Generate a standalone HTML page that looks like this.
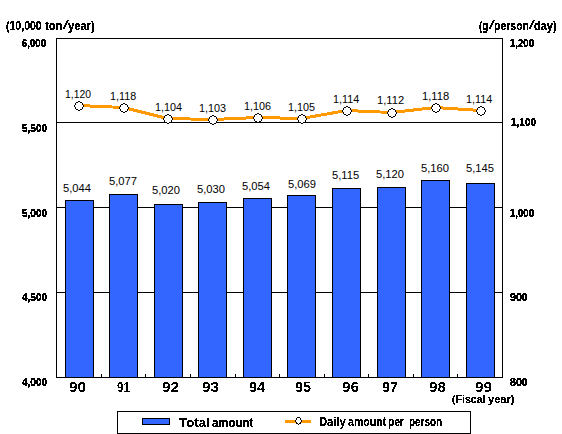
<!DOCTYPE html>
<html><head><meta charset="utf-8"><style>
html,body{margin:0;padding:0;background:#fff;width:562px;height:434px;overflow:hidden}
svg{display:block;font-family:"Liberation Sans",sans-serif}
</style></head><body>
<svg width="562" height="434" viewBox="0 0 562 434">
<defs><filter id="crispa" x="-10%" y="-30%" width="120%" height="160%"><feComponentTransfer><feFuncA type="discrete" tableValues="0 1 1 1"/></feComponentTransfer></filter><filter id="crispb" x="-10%" y="-30%" width="120%" height="160%"><feComponentTransfer><feFuncA type="discrete" tableValues="0 1 1"/></feComponentTransfer></filter><filter id="crispc" x="-10%" y="-30%" width="120%" height="160%"><feComponentTransfer><feFuncA type="discrete" tableValues="0 1"/></feComponentTransfer></filter><filter id="crispd" x="-10%" y="-30%" width="120%" height="160%"><feComponentTransfer><feFuncA type="discrete" tableValues="0 0 1 1 1"/></feComponentTransfer></filter><filter id="crispe" x="-10%" y="-30%" width="120%" height="160%"><feComponentTransfer><feFuncA type="discrete" tableValues="0 0 1"/></feComponentTransfer></filter></defs>
<g shape-rendering="crispEdges"><rect x="57" y="122" width="445" height="1" fill="#000"/>
<rect x="57" y="207" width="445" height="1" fill="#000"/>
<rect x="57" y="292" width="445" height="1" fill="#000"/>
<rect x="65" y="200" width="29" height="178" fill="#3366ff"/><rect x="65" y="200" width="29" height="1" fill="#000"/><rect x="65" y="377" width="29" height="1" fill="#000"/><rect x="65" y="200" width="1" height="178" fill="#000"/><rect x="93" y="200" width="1" height="178" fill="#000"/>
<rect x="109" y="194" width="29" height="184" fill="#3366ff"/><rect x="109" y="194" width="29" height="1" fill="#000"/><rect x="109" y="377" width="29" height="1" fill="#000"/><rect x="109" y="194" width="1" height="184" fill="#000"/><rect x="137" y="194" width="1" height="184" fill="#000"/>
<rect x="154" y="204" width="29" height="174" fill="#3366ff"/><rect x="154" y="204" width="29" height="1" fill="#000"/><rect x="154" y="377" width="29" height="1" fill="#000"/><rect x="154" y="204" width="1" height="174" fill="#000"/><rect x="182" y="204" width="1" height="174" fill="#000"/>
<rect x="198" y="202" width="29" height="176" fill="#3366ff"/><rect x="198" y="202" width="29" height="1" fill="#000"/><rect x="198" y="377" width="29" height="1" fill="#000"/><rect x="198" y="202" width="1" height="176" fill="#000"/><rect x="226" y="202" width="1" height="176" fill="#000"/>
<rect x="243" y="198" width="29" height="180" fill="#3366ff"/><rect x="243" y="198" width="29" height="1" fill="#000"/><rect x="243" y="377" width="29" height="1" fill="#000"/><rect x="243" y="198" width="1" height="180" fill="#000"/><rect x="271" y="198" width="1" height="180" fill="#000"/>
<rect x="287" y="195" width="29" height="183" fill="#3366ff"/><rect x="287" y="195" width="29" height="1" fill="#000"/><rect x="287" y="377" width="29" height="1" fill="#000"/><rect x="287" y="195" width="1" height="183" fill="#000"/><rect x="315" y="195" width="1" height="183" fill="#000"/>
<rect x="332" y="188" width="29" height="190" fill="#3366ff"/><rect x="332" y="188" width="29" height="1" fill="#000"/><rect x="332" y="377" width="29" height="1" fill="#000"/><rect x="332" y="188" width="1" height="190" fill="#000"/><rect x="360" y="188" width="1" height="190" fill="#000"/>
<rect x="377" y="187" width="29" height="191" fill="#3366ff"/><rect x="377" y="187" width="29" height="1" fill="#000"/><rect x="377" y="377" width="29" height="1" fill="#000"/><rect x="377" y="187" width="1" height="191" fill="#000"/><rect x="405" y="187" width="1" height="191" fill="#000"/>
<rect x="421" y="180" width="29" height="198" fill="#3366ff"/><rect x="421" y="180" width="29" height="1" fill="#000"/><rect x="421" y="377" width="29" height="1" fill="#000"/><rect x="421" y="180" width="1" height="198" fill="#000"/><rect x="449" y="180" width="1" height="198" fill="#000"/>
<rect x="466" y="183" width="29" height="195" fill="#3366ff"/><rect x="466" y="183" width="29" height="1" fill="#000"/><rect x="466" y="377" width="29" height="1" fill="#000"/><rect x="466" y="183" width="1" height="195" fill="#000"/><rect x="494" y="183" width="1" height="195" fill="#000"/>
<rect x="56" y="38" width="447" height="1" fill="#000"/><rect x="56" y="377" width="447" height="1" fill="#000"/><rect x="56" y="38" width="1" height="340" fill="#000"/><rect x="502" y="38" width="1" height="340" fill="#000"/>
<rect x="101" y="374" width="1" height="3" fill="#000"/>
<rect x="145" y="374" width="1" height="3" fill="#000"/>
<rect x="190" y="374" width="1" height="3" fill="#000"/>
<rect x="235" y="374" width="1" height="3" fill="#000"/>
<rect x="279" y="374" width="1" height="3" fill="#000"/>
<rect x="324" y="374" width="1" height="3" fill="#000"/>
<rect x="368" y="374" width="1" height="3" fill="#000"/>
<rect x="413" y="374" width="1" height="3" fill="#000"/>
<rect x="457" y="374" width="1" height="3" fill="#000"/>
<polyline points="78.5,105.5 123.5,107.5 167.5,118.5 212.5,119.5 257.5,117.5 301.5,118.5 346.5,110.5 391.5,112.5 435.5,107.5 480.5,110.5" fill="none" stroke="#ff9900" stroke-width="3" stroke-linejoin="round" stroke-linecap="butt"/>
<rect x="77" y="102" width="4" height="1" fill="#fff"/><rect x="76" y="103" width="6" height="1" fill="#fff"/><rect x="76" y="104" width="6" height="1" fill="#fff"/><rect x="75" y="105" width="8" height="1" fill="#fff"/><rect x="75" y="106" width="8" height="1" fill="#fff"/><rect x="76" y="107" width="6" height="1" fill="#fff"/><rect x="76" y="108" width="6" height="1" fill="#fff"/><rect x="77" y="109" width="4" height="1" fill="#fff"/><rect x="78" y="101" width="1" height="1" fill="#000"/><rect x="79" y="101" width="1" height="1" fill="#000"/><rect x="76" y="102" width="1" height="1" fill="#000"/><rect x="77" y="102" width="1" height="1" fill="#000"/><rect x="80" y="102" width="1" height="1" fill="#000"/><rect x="81" y="102" width="1" height="1" fill="#000"/><rect x="75" y="103" width="1" height="1" fill="#000"/><rect x="82" y="103" width="1" height="1" fill="#000"/><rect x="75" y="104" width="1" height="1" fill="#000"/><rect x="82" y="104" width="1" height="1" fill="#000"/><rect x="74" y="105" width="1" height="1" fill="#000"/><rect x="83" y="105" width="1" height="1" fill="#000"/><rect x="74" y="106" width="1" height="1" fill="#000"/><rect x="83" y="106" width="1" height="1" fill="#000"/><rect x="75" y="107" width="1" height="1" fill="#000"/><rect x="82" y="107" width="1" height="1" fill="#000"/><rect x="75" y="108" width="1" height="1" fill="#000"/><rect x="82" y="108" width="1" height="1" fill="#000"/><rect x="76" y="109" width="1" height="1" fill="#000"/><rect x="77" y="109" width="1" height="1" fill="#000"/><rect x="80" y="109" width="1" height="1" fill="#000"/><rect x="81" y="109" width="1" height="1" fill="#000"/><rect x="78" y="110" width="1" height="1" fill="#000"/><rect x="79" y="110" width="1" height="1" fill="#000"/>
<rect x="122" y="104" width="4" height="1" fill="#fff"/><rect x="121" y="105" width="6" height="1" fill="#fff"/><rect x="121" y="106" width="6" height="1" fill="#fff"/><rect x="120" y="107" width="8" height="1" fill="#fff"/><rect x="120" y="108" width="8" height="1" fill="#fff"/><rect x="121" y="109" width="6" height="1" fill="#fff"/><rect x="121" y="110" width="6" height="1" fill="#fff"/><rect x="122" y="111" width="4" height="1" fill="#fff"/><rect x="123" y="103" width="1" height="1" fill="#000"/><rect x="124" y="103" width="1" height="1" fill="#000"/><rect x="121" y="104" width="1" height="1" fill="#000"/><rect x="122" y="104" width="1" height="1" fill="#000"/><rect x="125" y="104" width="1" height="1" fill="#000"/><rect x="126" y="104" width="1" height="1" fill="#000"/><rect x="120" y="105" width="1" height="1" fill="#000"/><rect x="127" y="105" width="1" height="1" fill="#000"/><rect x="120" y="106" width="1" height="1" fill="#000"/><rect x="127" y="106" width="1" height="1" fill="#000"/><rect x="119" y="107" width="1" height="1" fill="#000"/><rect x="128" y="107" width="1" height="1" fill="#000"/><rect x="119" y="108" width="1" height="1" fill="#000"/><rect x="128" y="108" width="1" height="1" fill="#000"/><rect x="120" y="109" width="1" height="1" fill="#000"/><rect x="127" y="109" width="1" height="1" fill="#000"/><rect x="120" y="110" width="1" height="1" fill="#000"/><rect x="127" y="110" width="1" height="1" fill="#000"/><rect x="121" y="111" width="1" height="1" fill="#000"/><rect x="122" y="111" width="1" height="1" fill="#000"/><rect x="125" y="111" width="1" height="1" fill="#000"/><rect x="126" y="111" width="1" height="1" fill="#000"/><rect x="123" y="112" width="1" height="1" fill="#000"/><rect x="124" y="112" width="1" height="1" fill="#000"/>
<rect x="166" y="115" width="4" height="1" fill="#fff"/><rect x="165" y="116" width="6" height="1" fill="#fff"/><rect x="165" y="117" width="6" height="1" fill="#fff"/><rect x="164" y="118" width="8" height="1" fill="#fff"/><rect x="164" y="119" width="8" height="1" fill="#fff"/><rect x="165" y="120" width="6" height="1" fill="#fff"/><rect x="165" y="121" width="6" height="1" fill="#fff"/><rect x="166" y="122" width="4" height="1" fill="#fff"/><rect x="167" y="114" width="1" height="1" fill="#000"/><rect x="168" y="114" width="1" height="1" fill="#000"/><rect x="165" y="115" width="1" height="1" fill="#000"/><rect x="166" y="115" width="1" height="1" fill="#000"/><rect x="169" y="115" width="1" height="1" fill="#000"/><rect x="170" y="115" width="1" height="1" fill="#000"/><rect x="164" y="116" width="1" height="1" fill="#000"/><rect x="171" y="116" width="1" height="1" fill="#000"/><rect x="164" y="117" width="1" height="1" fill="#000"/><rect x="171" y="117" width="1" height="1" fill="#000"/><rect x="163" y="118" width="1" height="1" fill="#000"/><rect x="172" y="118" width="1" height="1" fill="#000"/><rect x="163" y="119" width="1" height="1" fill="#000"/><rect x="172" y="119" width="1" height="1" fill="#000"/><rect x="164" y="120" width="1" height="1" fill="#000"/><rect x="171" y="120" width="1" height="1" fill="#000"/><rect x="164" y="121" width="1" height="1" fill="#000"/><rect x="171" y="121" width="1" height="1" fill="#000"/><rect x="165" y="122" width="1" height="1" fill="#000"/><rect x="166" y="122" width="1" height="1" fill="#000"/><rect x="169" y="122" width="1" height="1" fill="#000"/><rect x="170" y="122" width="1" height="1" fill="#000"/><rect x="167" y="123" width="1" height="1" fill="#000"/><rect x="168" y="123" width="1" height="1" fill="#000"/>
<rect x="211" y="116" width="4" height="1" fill="#fff"/><rect x="210" y="117" width="6" height="1" fill="#fff"/><rect x="210" y="118" width="6" height="1" fill="#fff"/><rect x="209" y="119" width="8" height="1" fill="#fff"/><rect x="209" y="120" width="8" height="1" fill="#fff"/><rect x="210" y="121" width="6" height="1" fill="#fff"/><rect x="210" y="122" width="6" height="1" fill="#fff"/><rect x="211" y="123" width="4" height="1" fill="#fff"/><rect x="212" y="115" width="1" height="1" fill="#000"/><rect x="213" y="115" width="1" height="1" fill="#000"/><rect x="210" y="116" width="1" height="1" fill="#000"/><rect x="211" y="116" width="1" height="1" fill="#000"/><rect x="214" y="116" width="1" height="1" fill="#000"/><rect x="215" y="116" width="1" height="1" fill="#000"/><rect x="209" y="117" width="1" height="1" fill="#000"/><rect x="216" y="117" width="1" height="1" fill="#000"/><rect x="209" y="118" width="1" height="1" fill="#000"/><rect x="216" y="118" width="1" height="1" fill="#000"/><rect x="208" y="119" width="1" height="1" fill="#000"/><rect x="217" y="119" width="1" height="1" fill="#000"/><rect x="208" y="120" width="1" height="1" fill="#000"/><rect x="217" y="120" width="1" height="1" fill="#000"/><rect x="209" y="121" width="1" height="1" fill="#000"/><rect x="216" y="121" width="1" height="1" fill="#000"/><rect x="209" y="122" width="1" height="1" fill="#000"/><rect x="216" y="122" width="1" height="1" fill="#000"/><rect x="210" y="123" width="1" height="1" fill="#000"/><rect x="211" y="123" width="1" height="1" fill="#000"/><rect x="214" y="123" width="1" height="1" fill="#000"/><rect x="215" y="123" width="1" height="1" fill="#000"/><rect x="212" y="124" width="1" height="1" fill="#000"/><rect x="213" y="124" width="1" height="1" fill="#000"/>
<rect x="256" y="114" width="4" height="1" fill="#fff"/><rect x="255" y="115" width="6" height="1" fill="#fff"/><rect x="255" y="116" width="6" height="1" fill="#fff"/><rect x="254" y="117" width="8" height="1" fill="#fff"/><rect x="254" y="118" width="8" height="1" fill="#fff"/><rect x="255" y="119" width="6" height="1" fill="#fff"/><rect x="255" y="120" width="6" height="1" fill="#fff"/><rect x="256" y="121" width="4" height="1" fill="#fff"/><rect x="257" y="113" width="1" height="1" fill="#000"/><rect x="258" y="113" width="1" height="1" fill="#000"/><rect x="255" y="114" width="1" height="1" fill="#000"/><rect x="256" y="114" width="1" height="1" fill="#000"/><rect x="259" y="114" width="1" height="1" fill="#000"/><rect x="260" y="114" width="1" height="1" fill="#000"/><rect x="254" y="115" width="1" height="1" fill="#000"/><rect x="261" y="115" width="1" height="1" fill="#000"/><rect x="254" y="116" width="1" height="1" fill="#000"/><rect x="261" y="116" width="1" height="1" fill="#000"/><rect x="253" y="117" width="1" height="1" fill="#000"/><rect x="262" y="117" width="1" height="1" fill="#000"/><rect x="253" y="118" width="1" height="1" fill="#000"/><rect x="262" y="118" width="1" height="1" fill="#000"/><rect x="254" y="119" width="1" height="1" fill="#000"/><rect x="261" y="119" width="1" height="1" fill="#000"/><rect x="254" y="120" width="1" height="1" fill="#000"/><rect x="261" y="120" width="1" height="1" fill="#000"/><rect x="255" y="121" width="1" height="1" fill="#000"/><rect x="256" y="121" width="1" height="1" fill="#000"/><rect x="259" y="121" width="1" height="1" fill="#000"/><rect x="260" y="121" width="1" height="1" fill="#000"/><rect x="257" y="122" width="1" height="1" fill="#000"/><rect x="258" y="122" width="1" height="1" fill="#000"/>
<rect x="300" y="115" width="4" height="1" fill="#fff"/><rect x="299" y="116" width="6" height="1" fill="#fff"/><rect x="299" y="117" width="6" height="1" fill="#fff"/><rect x="298" y="118" width="8" height="1" fill="#fff"/><rect x="298" y="119" width="8" height="1" fill="#fff"/><rect x="299" y="120" width="6" height="1" fill="#fff"/><rect x="299" y="121" width="6" height="1" fill="#fff"/><rect x="300" y="122" width="4" height="1" fill="#fff"/><rect x="301" y="114" width="1" height="1" fill="#000"/><rect x="302" y="114" width="1" height="1" fill="#000"/><rect x="299" y="115" width="1" height="1" fill="#000"/><rect x="300" y="115" width="1" height="1" fill="#000"/><rect x="303" y="115" width="1" height="1" fill="#000"/><rect x="304" y="115" width="1" height="1" fill="#000"/><rect x="298" y="116" width="1" height="1" fill="#000"/><rect x="305" y="116" width="1" height="1" fill="#000"/><rect x="298" y="117" width="1" height="1" fill="#000"/><rect x="305" y="117" width="1" height="1" fill="#000"/><rect x="297" y="118" width="1" height="1" fill="#000"/><rect x="306" y="118" width="1" height="1" fill="#000"/><rect x="297" y="119" width="1" height="1" fill="#000"/><rect x="306" y="119" width="1" height="1" fill="#000"/><rect x="298" y="120" width="1" height="1" fill="#000"/><rect x="305" y="120" width="1" height="1" fill="#000"/><rect x="298" y="121" width="1" height="1" fill="#000"/><rect x="305" y="121" width="1" height="1" fill="#000"/><rect x="299" y="122" width="1" height="1" fill="#000"/><rect x="300" y="122" width="1" height="1" fill="#000"/><rect x="303" y="122" width="1" height="1" fill="#000"/><rect x="304" y="122" width="1" height="1" fill="#000"/><rect x="301" y="123" width="1" height="1" fill="#000"/><rect x="302" y="123" width="1" height="1" fill="#000"/>
<rect x="345" y="107" width="4" height="1" fill="#fff"/><rect x="344" y="108" width="6" height="1" fill="#fff"/><rect x="344" y="109" width="6" height="1" fill="#fff"/><rect x="343" y="110" width="8" height="1" fill="#fff"/><rect x="343" y="111" width="8" height="1" fill="#fff"/><rect x="344" y="112" width="6" height="1" fill="#fff"/><rect x="344" y="113" width="6" height="1" fill="#fff"/><rect x="345" y="114" width="4" height="1" fill="#fff"/><rect x="346" y="106" width="1" height="1" fill="#000"/><rect x="347" y="106" width="1" height="1" fill="#000"/><rect x="344" y="107" width="1" height="1" fill="#000"/><rect x="345" y="107" width="1" height="1" fill="#000"/><rect x="348" y="107" width="1" height="1" fill="#000"/><rect x="349" y="107" width="1" height="1" fill="#000"/><rect x="343" y="108" width="1" height="1" fill="#000"/><rect x="350" y="108" width="1" height="1" fill="#000"/><rect x="343" y="109" width="1" height="1" fill="#000"/><rect x="350" y="109" width="1" height="1" fill="#000"/><rect x="342" y="110" width="1" height="1" fill="#000"/><rect x="351" y="110" width="1" height="1" fill="#000"/><rect x="342" y="111" width="1" height="1" fill="#000"/><rect x="351" y="111" width="1" height="1" fill="#000"/><rect x="343" y="112" width="1" height="1" fill="#000"/><rect x="350" y="112" width="1" height="1" fill="#000"/><rect x="343" y="113" width="1" height="1" fill="#000"/><rect x="350" y="113" width="1" height="1" fill="#000"/><rect x="344" y="114" width="1" height="1" fill="#000"/><rect x="345" y="114" width="1" height="1" fill="#000"/><rect x="348" y="114" width="1" height="1" fill="#000"/><rect x="349" y="114" width="1" height="1" fill="#000"/><rect x="346" y="115" width="1" height="1" fill="#000"/><rect x="347" y="115" width="1" height="1" fill="#000"/>
<rect x="390" y="109" width="4" height="1" fill="#fff"/><rect x="389" y="110" width="6" height="1" fill="#fff"/><rect x="389" y="111" width="6" height="1" fill="#fff"/><rect x="388" y="112" width="8" height="1" fill="#fff"/><rect x="388" y="113" width="8" height="1" fill="#fff"/><rect x="389" y="114" width="6" height="1" fill="#fff"/><rect x="389" y="115" width="6" height="1" fill="#fff"/><rect x="390" y="116" width="4" height="1" fill="#fff"/><rect x="391" y="108" width="1" height="1" fill="#000"/><rect x="392" y="108" width="1" height="1" fill="#000"/><rect x="389" y="109" width="1" height="1" fill="#000"/><rect x="390" y="109" width="1" height="1" fill="#000"/><rect x="393" y="109" width="1" height="1" fill="#000"/><rect x="394" y="109" width="1" height="1" fill="#000"/><rect x="388" y="110" width="1" height="1" fill="#000"/><rect x="395" y="110" width="1" height="1" fill="#000"/><rect x="388" y="111" width="1" height="1" fill="#000"/><rect x="395" y="111" width="1" height="1" fill="#000"/><rect x="387" y="112" width="1" height="1" fill="#000"/><rect x="396" y="112" width="1" height="1" fill="#000"/><rect x="387" y="113" width="1" height="1" fill="#000"/><rect x="396" y="113" width="1" height="1" fill="#000"/><rect x="388" y="114" width="1" height="1" fill="#000"/><rect x="395" y="114" width="1" height="1" fill="#000"/><rect x="388" y="115" width="1" height="1" fill="#000"/><rect x="395" y="115" width="1" height="1" fill="#000"/><rect x="389" y="116" width="1" height="1" fill="#000"/><rect x="390" y="116" width="1" height="1" fill="#000"/><rect x="393" y="116" width="1" height="1" fill="#000"/><rect x="394" y="116" width="1" height="1" fill="#000"/><rect x="391" y="117" width="1" height="1" fill="#000"/><rect x="392" y="117" width="1" height="1" fill="#000"/>
<rect x="434" y="104" width="4" height="1" fill="#fff"/><rect x="433" y="105" width="6" height="1" fill="#fff"/><rect x="433" y="106" width="6" height="1" fill="#fff"/><rect x="432" y="107" width="8" height="1" fill="#fff"/><rect x="432" y="108" width="8" height="1" fill="#fff"/><rect x="433" y="109" width="6" height="1" fill="#fff"/><rect x="433" y="110" width="6" height="1" fill="#fff"/><rect x="434" y="111" width="4" height="1" fill="#fff"/><rect x="435" y="103" width="1" height="1" fill="#000"/><rect x="436" y="103" width="1" height="1" fill="#000"/><rect x="433" y="104" width="1" height="1" fill="#000"/><rect x="434" y="104" width="1" height="1" fill="#000"/><rect x="437" y="104" width="1" height="1" fill="#000"/><rect x="438" y="104" width="1" height="1" fill="#000"/><rect x="432" y="105" width="1" height="1" fill="#000"/><rect x="439" y="105" width="1" height="1" fill="#000"/><rect x="432" y="106" width="1" height="1" fill="#000"/><rect x="439" y="106" width="1" height="1" fill="#000"/><rect x="431" y="107" width="1" height="1" fill="#000"/><rect x="440" y="107" width="1" height="1" fill="#000"/><rect x="431" y="108" width="1" height="1" fill="#000"/><rect x="440" y="108" width="1" height="1" fill="#000"/><rect x="432" y="109" width="1" height="1" fill="#000"/><rect x="439" y="109" width="1" height="1" fill="#000"/><rect x="432" y="110" width="1" height="1" fill="#000"/><rect x="439" y="110" width="1" height="1" fill="#000"/><rect x="433" y="111" width="1" height="1" fill="#000"/><rect x="434" y="111" width="1" height="1" fill="#000"/><rect x="437" y="111" width="1" height="1" fill="#000"/><rect x="438" y="111" width="1" height="1" fill="#000"/><rect x="435" y="112" width="1" height="1" fill="#000"/><rect x="436" y="112" width="1" height="1" fill="#000"/>
<rect x="479" y="107" width="4" height="1" fill="#fff"/><rect x="478" y="108" width="6" height="1" fill="#fff"/><rect x="478" y="109" width="6" height="1" fill="#fff"/><rect x="477" y="110" width="8" height="1" fill="#fff"/><rect x="477" y="111" width="8" height="1" fill="#fff"/><rect x="478" y="112" width="6" height="1" fill="#fff"/><rect x="478" y="113" width="6" height="1" fill="#fff"/><rect x="479" y="114" width="4" height="1" fill="#fff"/><rect x="480" y="106" width="1" height="1" fill="#000"/><rect x="481" y="106" width="1" height="1" fill="#000"/><rect x="478" y="107" width="1" height="1" fill="#000"/><rect x="479" y="107" width="1" height="1" fill="#000"/><rect x="482" y="107" width="1" height="1" fill="#000"/><rect x="483" y="107" width="1" height="1" fill="#000"/><rect x="477" y="108" width="1" height="1" fill="#000"/><rect x="484" y="108" width="1" height="1" fill="#000"/><rect x="477" y="109" width="1" height="1" fill="#000"/><rect x="484" y="109" width="1" height="1" fill="#000"/><rect x="476" y="110" width="1" height="1" fill="#000"/><rect x="485" y="110" width="1" height="1" fill="#000"/><rect x="476" y="111" width="1" height="1" fill="#000"/><rect x="485" y="111" width="1" height="1" fill="#000"/><rect x="477" y="112" width="1" height="1" fill="#000"/><rect x="484" y="112" width="1" height="1" fill="#000"/><rect x="477" y="113" width="1" height="1" fill="#000"/><rect x="484" y="113" width="1" height="1" fill="#000"/><rect x="478" y="114" width="1" height="1" fill="#000"/><rect x="479" y="114" width="1" height="1" fill="#000"/><rect x="482" y="114" width="1" height="1" fill="#000"/><rect x="483" y="114" width="1" height="1" fill="#000"/><rect x="480" y="115" width="1" height="1" fill="#000"/><rect x="481" y="115" width="1" height="1" fill="#000"/>
<rect x="117" y="411" width="354" height="23" fill="#fff"/><rect x="117" y="411" width="354" height="1" fill="#000"/><rect x="117" y="433" width="354" height="1" fill="#000"/><rect x="117" y="411" width="1" height="23" fill="#000"/><rect x="470" y="411" width="1" height="23" fill="#000"/>
<rect x="142" y="418" width="28" height="7" fill="#3366ff"/><rect x="142" y="418" width="28" height="1" fill="#000"/><rect x="142" y="424" width="28" height="1" fill="#000"/><rect x="142" y="418" width="1" height="7" fill="#000"/><rect x="169" y="418" width="1" height="7" fill="#000"/>
<rect x="285" y="420" width="26" height="3" fill="#ff9900"/>
<rect x="298" y="417" width="1" height="1" fill="#fff"/><rect x="297" y="418" width="3" height="1" fill="#fff"/><rect x="297" y="419" width="3" height="1" fill="#fff"/><rect x="296" y="420" width="5" height="1" fill="#fff"/><rect x="296" y="421" width="5" height="1" fill="#fff"/><rect x="297" y="422" width="3" height="1" fill="#fff"/><rect x="297" y="423" width="3" height="1" fill="#fff"/><rect x="297" y="417" width="1" height="1" fill="#000"/><rect x="298" y="417" width="1" height="1" fill="#000"/><rect x="299" y="417" width="1" height="1" fill="#000"/><rect x="296" y="418" width="1" height="1" fill="#000"/><rect x="300" y="418" width="1" height="1" fill="#000"/><rect x="296" y="419" width="1" height="1" fill="#000"/><rect x="300" y="419" width="1" height="1" fill="#000"/><rect x="295" y="420" width="1" height="1" fill="#000"/><rect x="301" y="420" width="1" height="1" fill="#000"/><rect x="295" y="421" width="1" height="1" fill="#000"/><rect x="301" y="421" width="1" height="1" fill="#000"/><rect x="296" y="422" width="1" height="1" fill="#000"/><rect x="300" y="422" width="1" height="1" fill="#000"/><rect x="296" y="423" width="1" height="1" fill="#000"/><rect x="297" y="423" width="1" height="1" fill="#000"/><rect x="299" y="423" width="1" height="1" fill="#000"/><rect x="300" y="423" width="1" height="1" fill="#000"/><rect x="298" y="424" width="1" height="1" fill="#000"/>
<rect x="67" y="20" width="2" height="1" fill="#000"/>
<rect x="66" y="21" width="2" height="1" fill="#000"/>
<rect x="66" y="22" width="2" height="1" fill="#000"/>
<rect x="65" y="23" width="2" height="1" fill="#000"/>
<rect x="65" y="24" width="2" height="1" fill="#000"/>
<rect x="64" y="25" width="2" height="1" fill="#000"/>
<rect x="64" y="26" width="2" height="1" fill="#000"/>
<rect x="63" y="27" width="2" height="1" fill="#000"/>
<rect x="63" y="28" width="2" height="1" fill="#000"/>
<rect x="493" y="20" width="2" height="1" fill="#000"/>
<rect x="492" y="21" width="2" height="1" fill="#000"/>
<rect x="492" y="22" width="2" height="1" fill="#000"/>
<rect x="491" y="23" width="2" height="1" fill="#000"/>
<rect x="491" y="24" width="2" height="1" fill="#000"/>
<rect x="490" y="25" width="2" height="1" fill="#000"/>
<rect x="490" y="26" width="2" height="1" fill="#000"/>
<rect x="489" y="27" width="2" height="1" fill="#000"/>
<rect x="489" y="28" width="2" height="1" fill="#000"/>
<rect x="533" y="20" width="2" height="1" fill="#000"/>
<rect x="532" y="21" width="2" height="1" fill="#000"/>
<rect x="532" y="22" width="2" height="1" fill="#000"/>
<rect x="531" y="23" width="2" height="1" fill="#000"/>
<rect x="531" y="24" width="2" height="1" fill="#000"/>
<rect x="530" y="25" width="2" height="1" fill="#000"/>
<rect x="530" y="26" width="2" height="1" fill="#000"/>
<rect x="529" y="27" width="2" height="1" fill="#000"/>
<rect x="529" y="28" width="2" height="1" fill="#000"/></g>
<text x="6.00" y="30.00" font-size="12" font-weight="bold" fill="#000" textLength="35.70" lengthAdjust="spacingAndGlyphs" filter="url(#crispb)">(10,000</text>
<text x="45.00" y="30.00" font-size="12" font-weight="bold" fill="#000" textLength="17.66" lengthAdjust="spacingAndGlyphs" filter="url(#crispb)">ton</text>
<text x="68.00" y="30.00" font-size="12" font-weight="bold" fill="#000" textLength="26.69" lengthAdjust="spacingAndGlyphs" filter="url(#crispb)">year)</text>
<text x="479.00" y="30.00" font-size="12" font-weight="bold" fill="#000" textLength="9.33" lengthAdjust="spacingAndGlyphs" filter="url(#crispb)">(g</text>
<text x="494.00" y="30.00" font-size="12" font-weight="bold" fill="#000" textLength="35.02" lengthAdjust="spacingAndGlyphs" filter="url(#crispb)">person</text>
<text x="534.00" y="30.00" font-size="12" font-weight="bold" fill="#000" textLength="22.69" lengthAdjust="spacingAndGlyphs" filter="url(#crispb)">day)</text>
<text x="22.00" y="47.00" font-size="10" font-weight="bold" fill="#000" textLength="24.03" lengthAdjust="spacingAndGlyphs" filter="url(#crispa)">6,000</text>
<text x="22.00" y="132.00" font-size="10" font-weight="bold" fill="#000" textLength="25.03" lengthAdjust="spacingAndGlyphs" filter="url(#crispa)">5,500</text>
<text x="22.00" y="217.00" font-size="10" font-weight="bold" fill="#000" textLength="25.03" lengthAdjust="spacingAndGlyphs" filter="url(#crispa)">5,000</text>
<text x="22.00" y="301.00" font-size="10" font-weight="bold" fill="#000" textLength="25.03" lengthAdjust="spacingAndGlyphs" filter="url(#crispa)">4,500</text>
<text x="22.00" y="386.00" font-size="10" font-weight="bold" fill="#000" textLength="25.03" lengthAdjust="spacingAndGlyphs" filter="url(#crispa)">4,000</text>
<text x="510.00" y="47.00" font-size="10" font-weight="bold" fill="#000" textLength="24.03" lengthAdjust="spacingAndGlyphs" filter="url(#crispa)">1,200</text>
<text x="511.00" y="126.00" font-size="10" font-weight="bold" fill="#000" textLength="25.03" lengthAdjust="spacingAndGlyphs" filter="url(#crispa)">1,100</text>
<text x="510.00" y="217.00" font-size="10" font-weight="bold" fill="#000" textLength="24.03" lengthAdjust="spacingAndGlyphs" filter="url(#crispa)">1,000</text>
<text x="510.00" y="301.00" font-size="10" font-weight="bold" fill="#000" textLength="17.69" lengthAdjust="spacingAndGlyphs" filter="url(#crispa)">900</text>
<text x="510.00" y="386.00" font-size="10" font-weight="bold" fill="#000" textLength="17.69" lengthAdjust="spacingAndGlyphs" filter="url(#crispa)">800</text>
<text x="69.00" y="392.00" font-size="14.5" font-weight="bold" fill="#000" textLength="17.14" lengthAdjust="spacingAndGlyphs" filter="url(#crispc)">90</text>
<text x="117.00" y="392.00" font-size="14.5" font-weight="bold" fill="#000" textLength="13.14" lengthAdjust="spacingAndGlyphs" filter="url(#crispc)">91</text>
<text x="162.00" y="392.00" font-size="14.5" font-weight="bold" fill="#000" textLength="17.14" lengthAdjust="spacingAndGlyphs" filter="url(#crispc)">92</text>
<text x="202.00" y="392.00" font-size="14.5" font-weight="bold" fill="#000" textLength="17.14" lengthAdjust="spacingAndGlyphs" filter="url(#crispc)">93</text>
<text x="249.00" y="392.00" font-size="14.5" font-weight="bold" fill="#000" textLength="16.14" lengthAdjust="spacingAndGlyphs" filter="url(#crispc)">94</text>
<text x="295.00" y="392.00" font-size="14.5" font-weight="bold" fill="#000" textLength="16.14" lengthAdjust="spacingAndGlyphs" filter="url(#crispc)">95</text>
<text x="342.00" y="392.00" font-size="14.5" font-weight="bold" fill="#000" textLength="17.14" lengthAdjust="spacingAndGlyphs" filter="url(#crispc)">96</text>
<text x="382.00" y="392.00" font-size="14.5" font-weight="bold" fill="#000" textLength="16.14" lengthAdjust="spacingAndGlyphs" filter="url(#crispc)">97</text>
<text x="429.00" y="392.00" font-size="14.5" font-weight="bold" fill="#000" textLength="17.14" lengthAdjust="spacingAndGlyphs" filter="url(#crispc)">98</text>
<text x="475.00" y="392.00" font-size="14.5" font-weight="bold" fill="#000" textLength="17.14" lengthAdjust="spacingAndGlyphs" filter="url(#crispc)">99</text>
<text x="452.00" y="403.00" font-size="11.5" font-weight="bold" fill="#000" textLength="33.44" lengthAdjust="spacingAndGlyphs" filter="url(#crispb)">(Fiscal</text>
<text x="488.00" y="403.00" font-size="11.5" font-weight="bold" fill="#000" textLength="26.50" lengthAdjust="spacingAndGlyphs" filter="url(#crispb)">year)</text>
<text x="63.00" y="192.00" font-size="11.6" font-weight="normal" fill="#000" textLength="28.02" lengthAdjust="spacingAndGlyphs">5,044</text>
<text x="109.00" y="185.00" font-size="11.6" font-weight="normal" fill="#000" textLength="28.02" lengthAdjust="spacingAndGlyphs">5,077</text>
<text x="152.00" y="194.00" font-size="11.6" font-weight="normal" fill="#000" textLength="28.02" lengthAdjust="spacingAndGlyphs">5,020</text>
<text x="197.00" y="193.00" font-size="11.6" font-weight="normal" fill="#000" textLength="28.02" lengthAdjust="spacingAndGlyphs">5,030</text>
<text x="242.00" y="190.00" font-size="11.6" font-weight="normal" fill="#000" textLength="28.02" lengthAdjust="spacingAndGlyphs">5,054</text>
<text x="288.00" y="188.00" font-size="11.6" font-weight="normal" fill="#000" textLength="28.02" lengthAdjust="spacingAndGlyphs">5,069</text>
<text x="332.00" y="179.00" font-size="11.6" font-weight="normal" fill="#000" textLength="27.16" lengthAdjust="spacingAndGlyphs">5,115</text>
<text x="376.00" y="178.00" font-size="11.6" font-weight="normal" fill="#000" textLength="28.02" lengthAdjust="spacingAndGlyphs">5,120</text>
<text x="421.00" y="172.00" font-size="11.6" font-weight="normal" fill="#000" textLength="28.02" lengthAdjust="spacingAndGlyphs">5,160</text>
<text x="466.00" y="172.00" font-size="11.6" font-weight="normal" fill="#000" textLength="28.02" lengthAdjust="spacingAndGlyphs">5,145</text>
<text x="65.00" y="98.00" font-size="11.6" font-weight="normal" fill="#000" textLength="26.02" lengthAdjust="spacingAndGlyphs">1,120</text>
<text x="110.00" y="100.00" font-size="11.6" font-weight="normal" fill="#000" textLength="26.16" lengthAdjust="spacingAndGlyphs">1,118</text>
<text x="155.00" y="111.00" font-size="11.6" font-weight="normal" fill="#000" textLength="27.02" lengthAdjust="spacingAndGlyphs">1,104</text>
<text x="199.00" y="112.00" font-size="11.6" font-weight="normal" fill="#000" textLength="27.02" lengthAdjust="spacingAndGlyphs">1,103</text>
<text x="244.00" y="110.00" font-size="11.6" font-weight="normal" fill="#000" textLength="27.02" lengthAdjust="spacingAndGlyphs">1,106</text>
<text x="288.00" y="111.00" font-size="11.6" font-weight="normal" fill="#000" textLength="27.02" lengthAdjust="spacingAndGlyphs">1,105</text>
<text x="333.00" y="103.00" font-size="11.6" font-weight="normal" fill="#000" textLength="26.16" lengthAdjust="spacingAndGlyphs">1,114</text>
<text x="377.00" y="104.00" font-size="11.6" font-weight="normal" fill="#000" textLength="27.16" lengthAdjust="spacingAndGlyphs">1,112</text>
<text x="422.00" y="100.00" font-size="11.6" font-weight="normal" fill="#000" textLength="27.16" lengthAdjust="spacingAndGlyphs">1,118</text>
<text x="466.00" y="103.00" font-size="11.6" font-weight="normal" fill="#000" textLength="26.16" lengthAdjust="spacingAndGlyphs">1,114</text>
<text x="179.00" y="427.00" font-size="12" font-weight="bold" fill="#000" textLength="30.78" lengthAdjust="spacingAndGlyphs" filter="url(#crispb)">Total</text>
<text x="212.00" y="427.00" font-size="12" font-weight="bold" fill="#000" textLength="41.34" lengthAdjust="spacingAndGlyphs" filter="url(#crispb)">amount</text>
<text x="319.00" y="426.00" font-size="12" font-weight="bold" fill="#000" textLength="26.69" lengthAdjust="spacingAndGlyphs" filter="url(#crispb)">Daily</text>
<text x="348.00" y="426.00" font-size="12" font-weight="bold" fill="#000" textLength="38.34" lengthAdjust="spacingAndGlyphs" filter="url(#crispb)">amount</text>
<text x="388.00" y="426.00" font-size="12" font-weight="bold" fill="#000" textLength="15.69" lengthAdjust="spacingAndGlyphs" filter="url(#crispb)">per</text>
<text x="409.00" y="426.00" font-size="12" font-weight="bold" fill="#000" textLength="33.02" lengthAdjust="spacingAndGlyphs" filter="url(#crispb)">person</text>
</svg>
</body></html>
